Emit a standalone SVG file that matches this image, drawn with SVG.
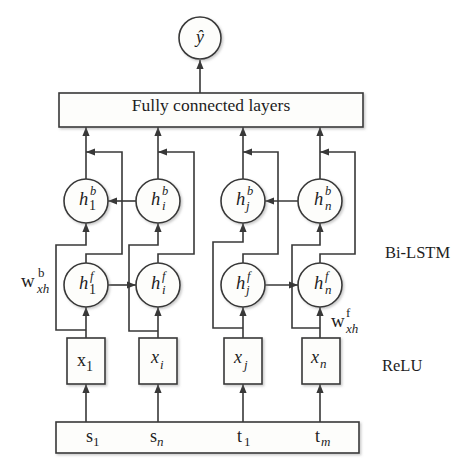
<svg xmlns="http://www.w3.org/2000/svg" width="474" height="474" viewBox="0 0 474 474">
<style>
.ln{fill:none;stroke:#383838;stroke-width:1.6}
.ar{fill:none;stroke:#383838;stroke-width:1.6;marker-end:url(#ah)}
.nd{fill:#fdfdfb;stroke:#383838;stroke-width:1.6;filter:url(#sh)}
.t{font-family:"Liberation Serif","Times New Roman",serif;fill:#1e1e1e}
.it{font-style:italic}
</style>
<defs>
<marker id="ah" viewBox="0 0 10 8" refX="10" refY="4" markerWidth="9" markerHeight="8" markerUnits="userSpaceOnUse" orient="auto">
<path d="M0,0 L10,4 L0,8 z" fill="#383838"/>
</marker>
<filter id="sh" x="-20%" y="-20%" width="150%" height="150%">
<feDropShadow dx="1.5" dy="1.5" stdDeviation="1.2" flood-color="#888" flood-opacity="0.45"/>
</filter>
</defs>
<rect width="474" height="474" fill="#fff"/>

<g id="connectors">
<line class="ar" x1="200" y1="93" x2="200" y2="60"/>
<line class="ar" x1="86" y1="422" x2="86" y2="384"/>
<line class="ar" x1="86" y1="338" x2="86" y2="307"/>
<path class="ar" d="M86,330 H56 V245 H86 V223"/>
<path class="ar" d="M86,263 V254 H122 V152 H86"/>
<line class="ar" x1="86" y1="179" x2="86" y2="127"/>
<line class="ar" x1="158" y1="422" x2="158" y2="384"/>
<line class="ar" x1="158" y1="338" x2="158" y2="307"/>
<path class="ar" d="M158,331 H129 V245 H158 V223"/>
<path class="ar" d="M158,263 V254 H194 V152 H158"/>
<line class="ar" x1="158" y1="179" x2="158" y2="127"/>
<line class="ar" x1="243" y1="422" x2="243" y2="384"/>
<line class="ar" x1="243" y1="338" x2="243" y2="307"/>
<path class="ar" d="M243,328 H213 V242 H243 V223"/>
<path class="ar" d="M243,263 V254 H278 V152 H243"/>
<line class="ar" x1="243" y1="179" x2="243" y2="127"/>
<line class="ar" x1="320" y1="422" x2="320" y2="384"/>
<line class="ar" x1="320" y1="338" x2="320" y2="307"/>
<path class="ar" d="M320,328 H292 V245 H320 V223"/>
<path class="ar" d="M320,263 V254 H355 V152 H320"/>
<line class="ar" x1="320" y1="179" x2="320" y2="127"/>
<line class="ar" x1="108" y1="285" x2="136" y2="285"/>
<line class="ar" x1="136" y1="201" x2="108" y2="201"/>
<line class="ar" x1="265" y1="285" x2="298" y2="285"/>
<line class="ar" x1="298" y1="201" x2="265" y2="201"/>
</g>

<g id="yhat">
<circle class="nd" cx="200" cy="38" r="21"/>
<text class="t it" x="200" y="43" font-size="18" text-anchor="middle">ŷ</text>
</g>

<g id="fc">
<rect class="nd" x="59" y="93" width="304" height="34"/>
<text class="t" x="211" y="111" font-size="17.5" text-anchor="middle">Fully connected layers</text>
</g>

<g id="h1b">
<circle class="nd" cx="86" cy="201" r="22"/>
<text class="t it" x="79" y="205" font-size="18.5">h</text>
<text class="t it" x="90" y="195" font-size="12.5">b</text>
<text class="t" x="89" y="210" font-size="14">1</text>
</g>
<g id="hib">
<circle class="nd" cx="158" cy="201" r="22"/>
<text class="t it" x="151" y="205" font-size="18.5">h</text>
<text class="t it" x="162" y="195" font-size="12.5">b</text>
<text class="t it" x="162" y="210" font-size="13">i</text>
</g>
<g id="hjb">
<circle class="nd" cx="243" cy="201" r="22"/>
<text class="t it" x="236" y="205" font-size="18.5">h</text>
<text class="t it" x="247" y="195" font-size="12.5">b</text>
<text class="t it" x="246" y="210" font-size="13">j</text>
</g>
<g id="hnb">
<circle class="nd" cx="320" cy="201" r="22"/>
<text class="t it" x="314" y="205" font-size="18.5">h</text>
<text class="t it" x="325" y="195" font-size="12.5">b</text>
<text class="t it" x="325" y="210" font-size="13">n</text>
</g>

<g id="h1f">
<circle class="nd" cx="86" cy="285" r="22"/>
<text class="t it" x="79" y="289" font-size="18.5">h</text>
<text class="t it" x="90" y="280" font-size="12.5">f</text>
<text class="t" x="89" y="294" font-size="14">1</text>
</g>
<g id="hif">
<circle class="nd" cx="158" cy="285" r="22"/>
<text class="t it" x="151" y="289" font-size="18.5">h</text>
<text class="t it" x="162" y="280" font-size="12.5">f</text>
<text class="t it" x="162" y="294" font-size="13">i</text>
</g>
<g id="hjf">
<circle class="nd" cx="243" cy="285" r="22"/>
<text class="t it" x="236" y="289" font-size="18.5">h</text>
<text class="t it" x="247" y="280" font-size="12.5">f</text>
<text class="t it" x="246" y="294" font-size="13">j</text>
</g>
<g id="hnf">
<circle class="nd" cx="320" cy="285" r="22"/>
<text class="t it" x="314" y="289" font-size="18.5">h</text>
<text class="t it" x="325" y="280" font-size="12.5">f</text>
<text class="t it" x="325" y="294" font-size="13">n</text>
</g>

<g id="x1">
<rect class="nd" x="67" y="338" width="38" height="46"/>
<text class="t" x="77" y="366" font-size="18">x</text>
<text class="t" x="86" y="371" font-size="14">1</text>
</g>
<g id="xi">
<rect class="nd" x="139" y="338" width="38" height="46"/>
<text class="t it" x="151" y="363" font-size="18">x</text>
<text class="t it" x="160" y="369" font-size="13">i</text>
</g>
<g id="xj">
<rect class="nd" x="224" y="338" width="38" height="46"/>
<text class="t it" x="234" y="363" font-size="18">x</text>
<text class="t it" x="244" y="369" font-size="13">j</text>
</g>
<g id="xn">
<rect class="nd" x="302" y="338" width="38" height="46"/>
<text class="t it" x="311" y="363" font-size="18">x</text>
<text class="t it" x="320" y="368" font-size="13">n</text>
</g>

<g id="input">
<rect class="nd" x="56" y="422" width="303" height="31"/>
<text class="t" x="86" y="442" font-size="18">s</text>
<text class="t" x="93" y="446" font-size="13">1</text>
<text class="t" x="150" y="442" font-size="18">s</text>
<text class="t it" x="157" y="446" font-size="13">n</text>
<text class="t" x="237" y="442" font-size="18">t</text>
<text class="t" x="244" y="446" font-size="13">1</text>
<text class="t" x="315" y="442" font-size="18">t</text>
<text class="t it" x="321" y="446" font-size="13">m</text>
</g>

<g id="labels">
<text class="t" x="21" y="287" font-size="19">w</text>
<text class="t" x="38" y="277" font-size="13">b</text>
<text class="t it" x="37" y="293" font-size="13">xh</text>
<text class="t" x="331" y="327" font-size="19">w</text>
<text class="t" x="346" y="317" font-size="13">f</text>
<text class="t it" x="346" y="333" font-size="13">xh</text>
<text class="t" x="385" y="258" font-size="16.5">Bi-LSTM</text>
<text class="t" x="382" y="371" font-size="16.5">ReLU</text>
</g>
</svg>
